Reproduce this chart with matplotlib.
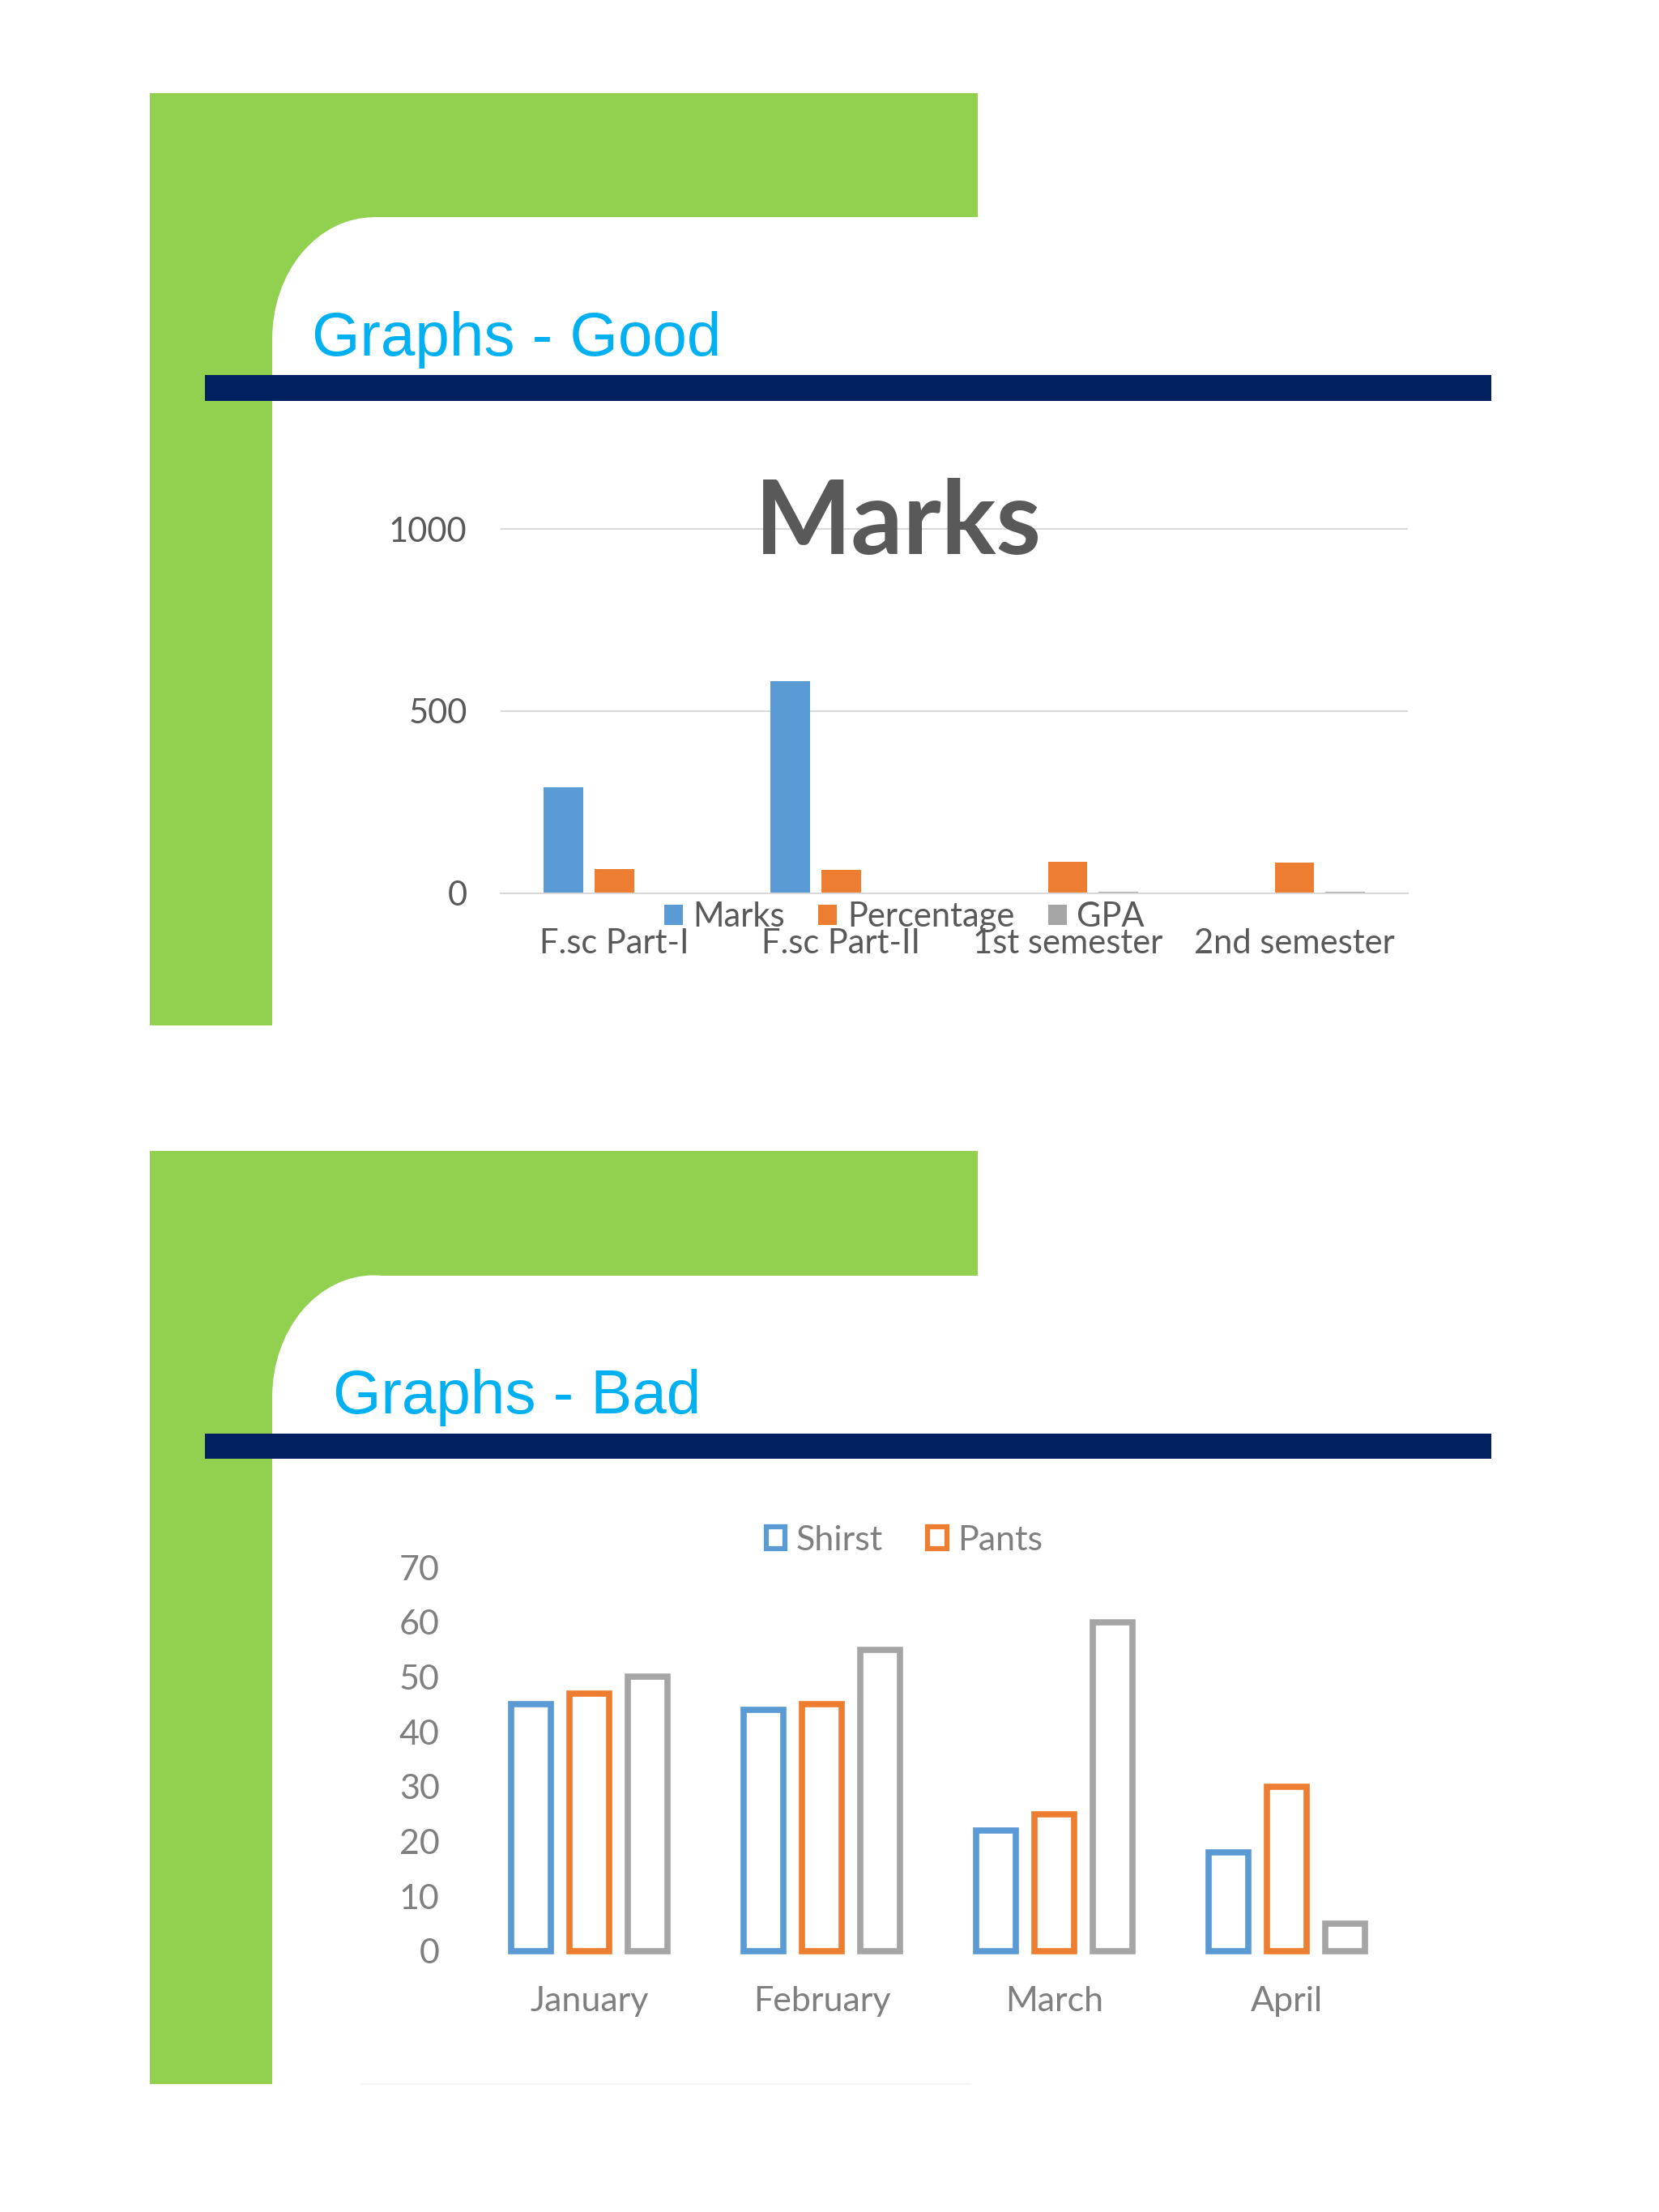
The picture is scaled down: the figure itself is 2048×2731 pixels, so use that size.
import numpy as np
import matplotlib.pyplot as plt
from matplotlib.patches import Rectangle, Ellipse, Patch

plt.rcParams['font.family'] = ['Lato', 'DejaVu Sans']

# chart 1 data
semesters = ["F.sc Part-I", "F.sc Part-II", "1st semester", "2nd semester"]
marks = [290, 581, 0, 0]
percentage = [66, 64, 85, 84]
gpa = [0, 0, 3.2, 3.4]

# chart 2 data
months = ["January", "February", "March", "April"]
shirst = [45, 44, 22, 18]
pants = [47, 45, 25, 30]
third = [50, 55, 60, 5]

BLUE = "#5B9BD5"
ORANGE = "#ED7D31"
GRAY = "#A5A5A5"
GREEN = "#92D050"
NAVY = "#002060"
TITLE = "#00B0F0"

# layout works in the 1176 x 1568 grid of the reference preview
W, H = 1176.0, 1568.0
fig = plt.figure(figsize=(20.48, 27.31), dpi=100)
fig.patch.set_facecolor("white")

def box(x0, y0, x1, y1):
    return [x0 / W, 1 - y1 / H, (x1 - x0) / W, (y1 - y0) / H]

bg = fig.add_axes([0, 0, 1, 1])
bg.set_xlim(0, W)
bg.set_ylim(H, 0)
bg.axis('off')

def slide(top, bottom, bar_y, title, title_x):
    # green L shape with the rounded white corner
    bg.add_patch(Rectangle((106, top), 587, 88, color=GREEN, lw=0))
    bg.add_patch(Rectangle((106, top), 87, bottom - top, color=GREEN, lw=0))
    bg.add_patch(Rectangle((193, top + 88), 72, 86, color=GREEN, lw=0))
    bg.add_patch(Ellipse((265, top + 174), 144, 172, color="white", lw=0))
    bg.add_patch(Rectangle((145, bar_y), 912, 18, color=NAVY, lw=0, zorder=3))
    bg.text(title_x, bar_y - 14, title, color=TITLE, fontsize=55,
            family='Liberation Sans', va='baseline', ha='left')

slide(66, 727, 266, "Graphs - Good", 221)
slide(816, 1477, 1016, "Graphs - Bad", 236)
bg.plot([256, 688], [1477, 1477], color="#F4F4F4", lw=1.5)

# ---- chart 1 : Marks
ymax = 1050
ax1 = fig.add_axes(box(355, 633 - ymax * 0.258, 998, 633))
ax1.patch.set_alpha(0)
x = np.arange(len(semesters))
w = 0.174
off = 0.224
ax1.bar(x - off, marks, w, color=BLUE, label="Marks")
ax1.bar(x, percentage, w, color=ORANGE, label="Percentage")
ax1.bar(x + off, gpa, w, color=GRAY, label="GPA")
ax1.set_xlim(-0.5, 3.5)
ax1.set_ylim(0, ymax)
ax1.set_yticks([0, 500, 1000])
ax1.set_xticks(x)
ax1.set_xticklabels(semesters)
ax1.grid(axis='y', color="#D9D9D9", lw=1.5)
ax1.set_axisbelow(True)
for s in ['top', 'right', 'left']:
    ax1.spines[s].set_visible(False)
ax1.spines['bottom'].set_color("#D9D9D9")
ax1.spines['bottom'].set_linewidth(1.5)
ax1.tick_params(length=0, labelsize=30, labelcolor="#595959")
ax1.tick_params(axis='x', pad=31)
ax1.tick_params(axis='y', pad=30)
ax1.legend(loc='center', bbox_to_anchor=(641 / W, 1 - 650 / H),
           bbox_transform=fig.transFigure, ncol=3, frameon=False,
           fontsize=30, labelcolor="#595959", handlelength=0.55,
           handleheight=0.55, handletextpad=0.3, columnspacing=1.0,
           borderpad=0)
fig.text(637 / W, 1 - 393 / H, "Marks", fontsize=91, fontweight='bold',
         color="#595959", ha='center', va='baseline')

# ---- chart 2 : bad one
ax2 = fig.add_axes(box(335.5, 1111, 994.5, 1383))
ax2.patch.set_alpha(0)
x2 = np.arange(len(months))
w2 = 0.17
off2 = 0.2515
ax2.bar(x2 - off2, shirst, w2, facecolor="white", edgecolor=BLUE, lw=5.5, clip_on=False)
ax2.bar(x2, pants, w2, facecolor="white", edgecolor=ORANGE, lw=5.5, clip_on=False)
ax2.bar(x2 + off2, third, w2, facecolor="white", edgecolor=GRAY, lw=5.5, clip_on=False)
ax2.set_xlim(-0.5, 3.5)
ax2.set_ylim(0, 70)
ax2.set_yticks(range(0, 71, 10))
ax2.set_xticks(x2)
ax2.set_xticklabels(months)
for s in ax2.spines.values():
    s.set_visible(False)
ax2.tick_params(length=0, labelsize=31, labelcolor="#7F7F7F")
ax2.tick_params(axis='x', pad=31)
ax2.tick_params(axis='y', pad=30)
handles = [Patch(facecolor="white", edgecolor=BLUE, lw=4.5, label="Shirst"),
           Patch(facecolor="white", edgecolor=ORANGE, lw=4.5, label="Pants")]
ax2.legend(handles=handles, loc='center', bbox_to_anchor=(641 / W, 1 - 1092 / H),
           bbox_transform=fig.transFigure, ncol=2, frameon=False,
           fontsize=31, labelcolor="#7F7F7F", handlelength=0.55,
           handleheight=0.6, handletextpad=0.3, columnspacing=1.3,
           borderpad=0)

fig.savefig("out.png", dpi=100)
